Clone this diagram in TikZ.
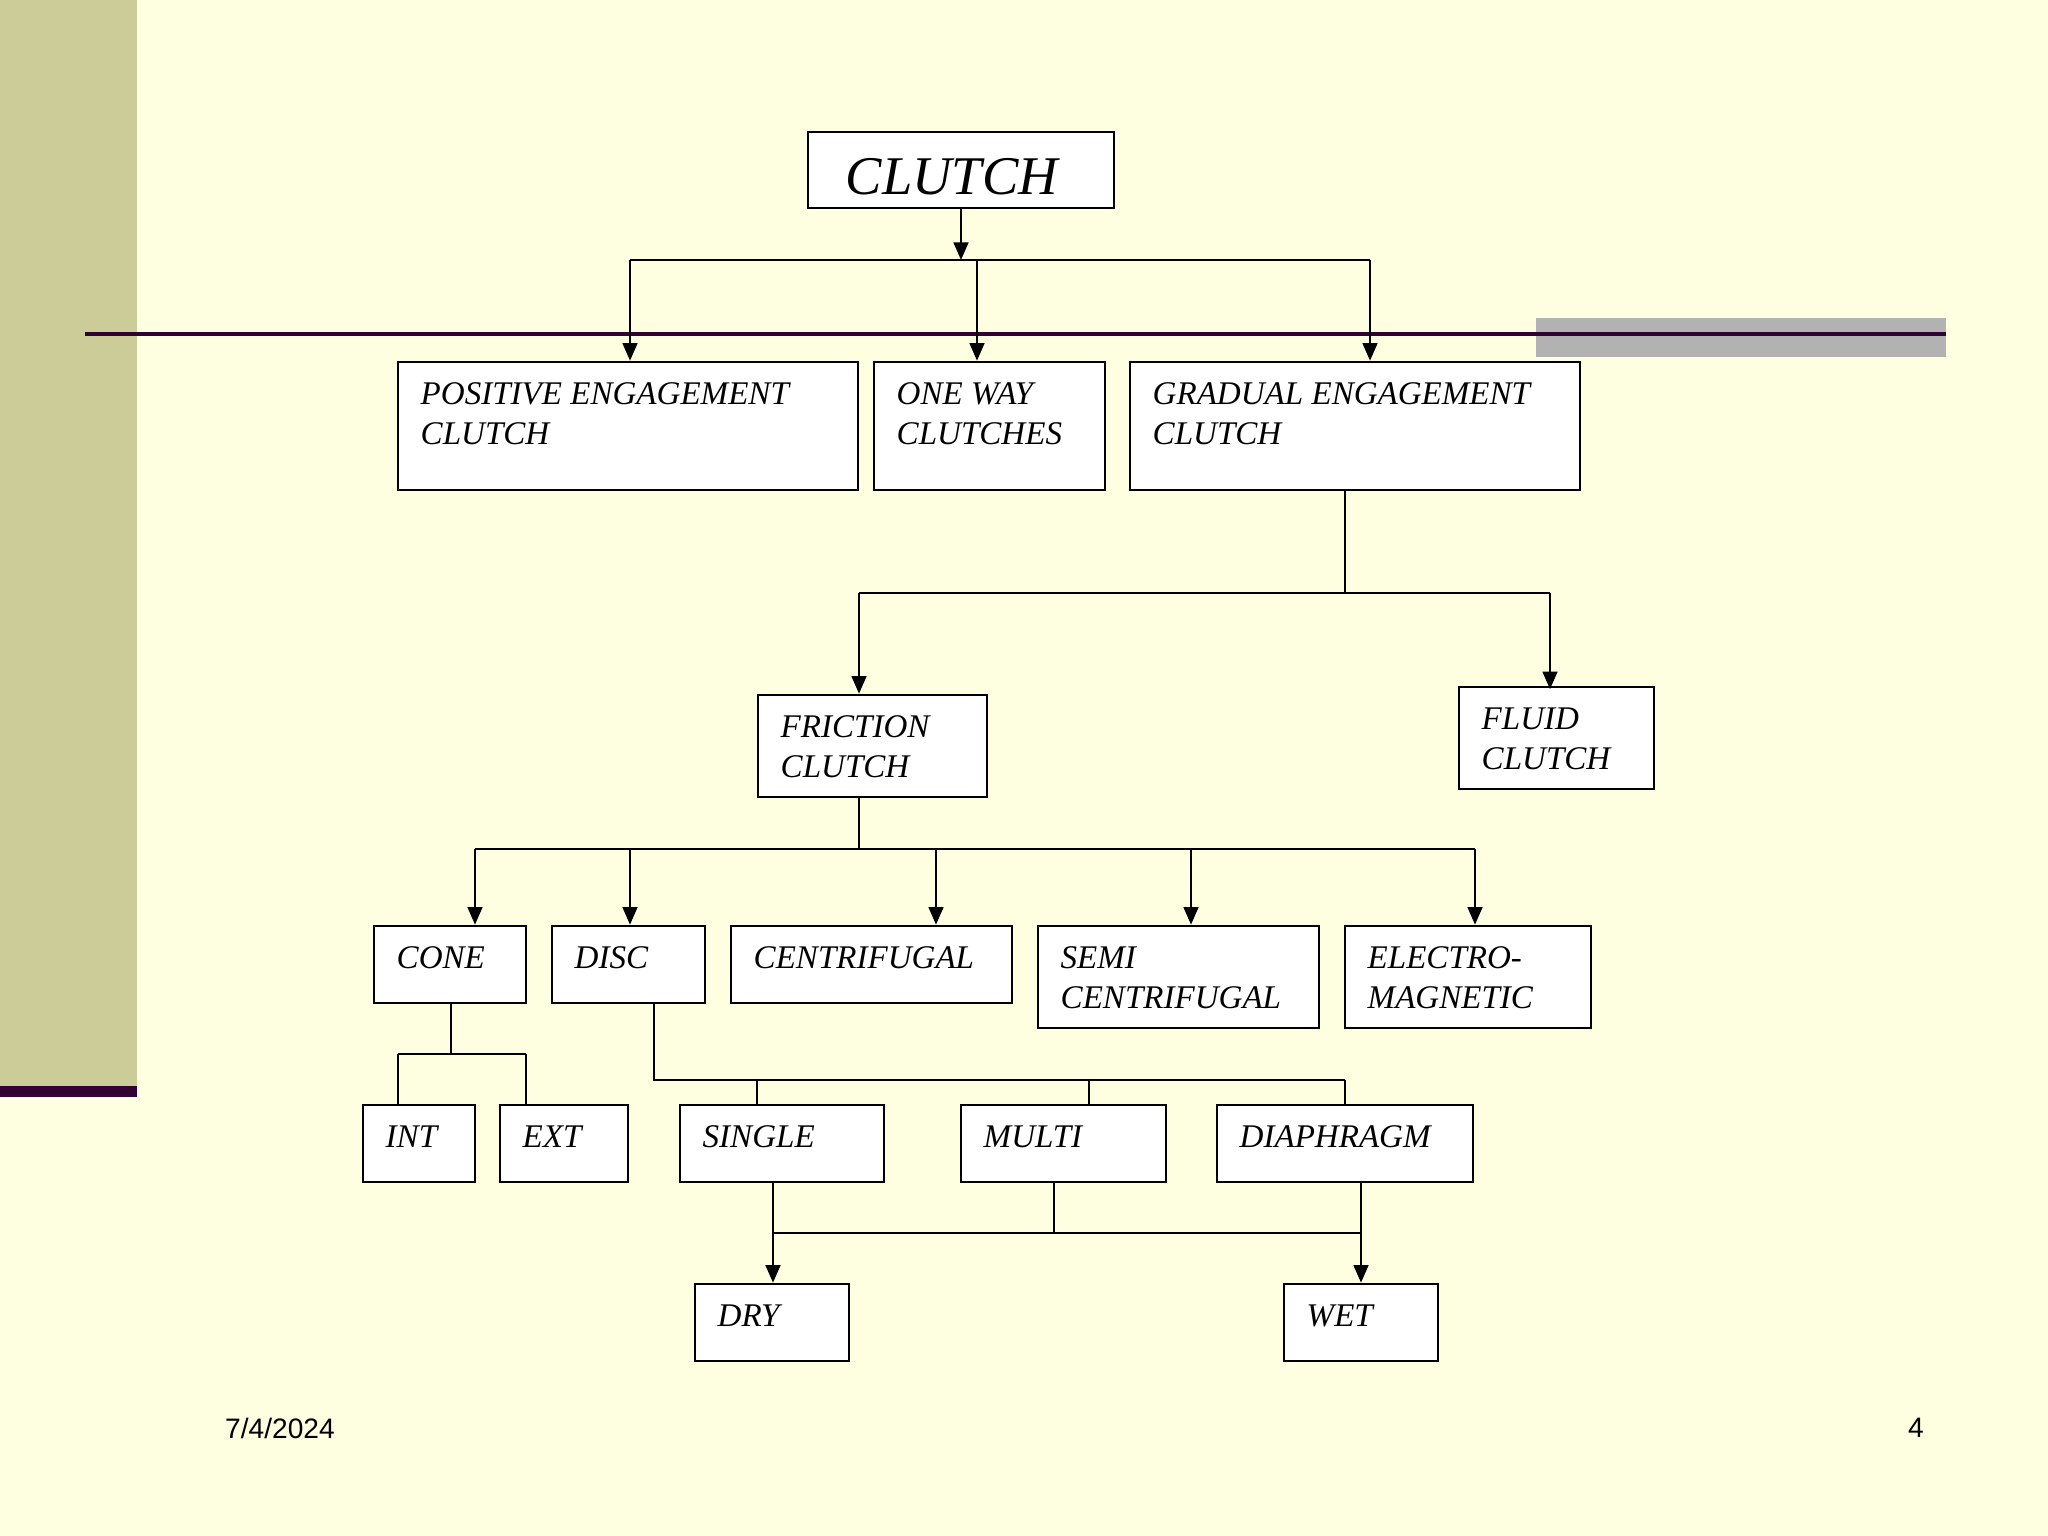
\documentclass[tikz,border=0pt]{standalone}
\usepackage{fontspec}
\setmainfont{Liberation Serif}
\newfontfamily\arialf{Liberation Sans}
\usetikzlibrary{arrows.meta,fit}
\definecolor{bgc}{HTML}{FEFEE0}
\definecolor{khaki}{HTML}{CCCC99}
\definecolor{dpurp}{HTML}{330033}
\definecolor{grayb}{HTML}{B2B2B2}
\tikzset{
  box/.style={draw=black, fill=white, line width=0.75pt, inner sep=0pt, rectangle},
  lbl/.style={inner sep=0pt, align=left, anchor=north west, font=\fontsize{9.4}{11.4}\selectfont\itshape},
  conn/.style={line width=0.6pt},
  arr/.style={line width=0.6pt, -{Triangle[length=5pt,width=4.2pt]}},
}
\newcommand\clbox[6]{%
  \node[box, fit={(#2,#3) (#4,#5)}] (#1) {};
  \node[lbl] (#1-t) at (#2+22,#3+20) {#6};
}
\begin{document}
\begin{tikzpicture}[x=0.01cm,y=-0.01cm]
\useasboundingbox (0,0) rectangle (2048,1536);
\fill[bgc] (0,0) rectangle (2048,1536);
\fill[khaki] (0,0) rectangle (137,1086);
\fill[dpurp] (0,1086) rectangle (137,1097);
\fill[grayb] (1536,318) rectangle (1946,357);
\draw[dpurp, line width=1.3pt] (85,334) -- (1946,334);

% top node
\node[box, fit={(808,132) (1114,208)}] (clutch) {};
\node[inner sep=0pt, anchor=north west, font=\fontsize{15.5}{18}\selectfont\itshape] (clutch-t) at (845,158) {CLUTCH};

\clbox{pos}{398}{362}{858}{490}{POSITIVE ENGAGEMENT\\CLUTCH}
\clbox{one}{874}{362}{1105}{490}{ONE WAY\\CLUTCHES}
\clbox{grad}{1130}{362}{1580}{490}{GRADUAL ENGAGEMENT\\CLUTCH}
\clbox{fric}{758}{695}{987}{797}{FRICTION\\CLUTCH}
\clbox{fluid}{1459}{687}{1654}{789}{FLUID\\CLUTCH}
\clbox{cone}{374}{926}{526}{1003}{CONE}
\clbox{disc}{552}{926}{705}{1003}{DISC}
\clbox{cent}{731}{926}{1012}{1003}{CENTRIFUGAL}
\clbox{semi}{1038}{926}{1319}{1028}{SEMI\\CENTRIFUGAL}
\clbox{elec}{1345}{926}{1591}{1028}{ELECTRO-\\MAGNETIC}
\clbox{int}{363}{1105}{475}{1182}{INT}
\clbox{ext}{500}{1105}{628}{1182}{EXT}
\clbox{single}{680}{1105}{884}{1182}{SINGLE}
\clbox{multi}{961}{1105}{1166}{1182}{MULTI}
\clbox{diaph}{1217}{1105}{1473}{1182}{DIAPHRAGM}
\clbox{dry}{695}{1284}{849}{1361}{DRY}
\clbox{wet}{1284}{1284}{1438}{1361}{WET}

% level 1
\coordinate (b1L) at (630,260);
\coordinate (b1M) at (977,260);
\coordinate (b1R) at (1370,260);
\draw[arr] (clutch.south) -- (clutch.south |- b1L);
\draw[conn] (b1L) -- (b1R);
\draw[arr] (b1L) -- (b1L |- pos.north);
\draw[arr] (b1M) -- (b1M |- one.north);
\draw[arr] (b1R) -- (b1R |- grad.north);

% gradual
\coordinate (g1) at (1345,593);
\coordinate (b2L) at (859,593);
\coordinate (b2R) at (1550,593);
\draw[conn] (g1 |- grad.south) -- (g1);
\draw[conn] (b2L) -- (b2R);
\draw[arr] (b2L) -- (b2L |- fric.north);
\draw[arr] (b2R) -- ([yshift=-1pt]b2R |- fluid.north);

% friction
\coordinate (f1) at (859,849);
\coordinate (b3a) at (475,849);
\coordinate (b3b) at (630,849);
\coordinate (b3c) at (936,849);
\coordinate (b3d) at (1191,849);
\coordinate (b3e) at (1475,849);
\draw[conn] (f1 |- fric.south) -- (f1);
\draw[conn] (b3a) -- (b3e);
\draw[arr] (b3a) -- (b3a |- cone.north);
\draw[arr] (b3b) -- (b3b |- disc.north);
\draw[arr] (b3c) -- (b3c |- cent.north);
\draw[arr] (b3d) -- (b3d |- semi.north);
\draw[arr] (b3e) -- (b3e |- elec.north);

% cone
\coordinate (c1) at (451,1054);
\coordinate (c1L) at (398,1054);
\coordinate (c1R) at (526,1054);
\draw[conn] (c1 |- cone.south) -- (c1);
\draw[conn] (c1L) -- (c1R);
\draw[conn] (c1L) -- (c1L |- int.north);
\draw[conn] (c1R) -- (c1R |- ext.north);

% disc
\coordinate (d1) at (654,1080);
\coordinate (d1a) at (757,1080);
\coordinate (d1b) at (1089,1080);
\coordinate (d1c) at (1345,1080);
\draw[conn] (d1 |- disc.south) -- (d1) -- (d1c);
\draw[conn] (d1a) -- (d1a |- single.north);
\draw[conn] (d1b) -- (d1b |- multi.north);
\draw[conn] (d1c) -- (d1c |- diaph.north);

% dry / wet
\coordinate (e1) at (773,1233);
\coordinate (e2) at (1054,1233);
\coordinate (e3) at (1361,1233);
\draw[conn] (e1 |- single.south) -- (e1);
\draw[conn] (e2 |- multi.south) -- (e2);
\draw[conn] (e3 |- diaph.south) -- (e3);
\draw[conn] (e1) -- (e3);
\draw[arr] (e1) -- (e1 |- dry.north);
\draw[arr] (e3) -- (e3 |- wet.north);

% footer
\node[inner sep=0pt, font=\arialf\fontsize{8}{9.6}\selectfont] (date) at (280,1428) {7/4/2024};
\node[inner sep=0pt, font=\arialf\fontsize{8}{9.6}\selectfont] (pnum) at (1916,1428) {4};
\end{tikzpicture}
\end{document}
